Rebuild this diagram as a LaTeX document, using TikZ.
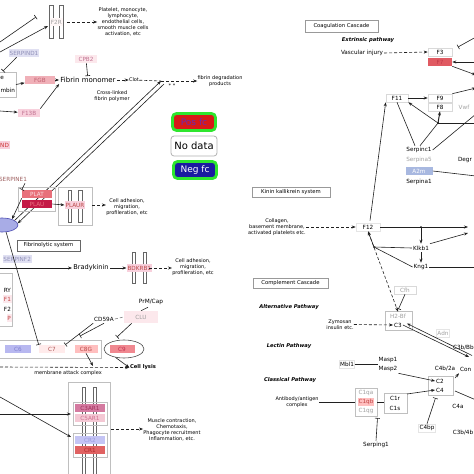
\documentclass[tikz,border=0pt]{standalone}
\usepackage{fontspec}
\setmainfont{DejaVu Sans}
\usetikzlibrary{arrows.meta,shapes.geometric}
\definecolor{pinkA}{HTML}{F8D0DC}
\definecolor{pinkT}{HTML}{C07090}
\definecolor{lpink}{HTML}{FCE8EC}
\definecolor{lav}{HTML}{E0E0F2}
\definecolor{lavT}{HTML}{9090B8}
\definecolor{grayT}{HTML}{A0A0A0}
\definecolor{platbg}{HTML}{E8707A}
\definecolor{plattx}{HTML}{FBDDE0}
\definecolor{plaubg}{HTML}{C41A46}
\definecolor{plautx}{HTML}{E87080}
\definecolor{c3arbg}{HTML}{D47AA0}
\definecolor{c3artx}{HTML}{A0305A}
\definecolor{c5arbg}{HTML}{F4C8D4}
\definecolor{c5artx}{HTML}{D07090}
\definecolor{cr2bg}{HTML}{C4C4F4}
\definecolor{cr2tx}{HTML}{9A9AE0}
\definecolor{cr1bg}{HTML}{E06262}
\definecolor{cr1tx}{HTML}{B02828}
\definecolor{f7bg}{HTML}{E05A62}
\definecolor{f7tx}{HTML}{C03848}
\definecolor{c9bg}{HTML}{F08890}
\definecolor{c9tx}{HTML}{C03050}
\definecolor{c6bg}{HTML}{B8B8F0}
\definecolor{c6tx}{HTML}{8080D0}
\definecolor{fgbbg}{HTML}{F0B0B8}
\definecolor{fgbtx}{HTML}{C06070}
\definecolor{a2mbg}{HTML}{A8B8E0}
\definecolor{posgreen}{HTML}{2EE62E}
\definecolor{posred}{HTML}{D81818}
\definecolor{postx}{HTML}{6A2AB0}
\definecolor{negblue}{HTML}{1A1AA0}
\definecolor{plgbg}{HTML}{A8ACE6}
\definecolor{linec}{HTML}{202020}
\tikzset{
  gene/.style 2 args={font=\fontsize{5.7}{6}\selectfont, inner sep=0.8pt, minimum height=8pt, fill=#1, text=#2},
  plain/.style={font=\fontsize{5.7}{6}\selectfont, inner sep=0.8pt, minimum height=8pt},
  txt/.style={font=\fontsize{5}{5.9}\selectfont, align=center, inner sep=0pt},
  big/.style={font=\fontsize{7}{8}\selectfont, inner sep=1pt},
  bit/.style={font=\fontsize{5.2}{6}\selectfont\bfseries\itshape, inner sep=0pt},
  arr/.style={-{Stealth[length=4pt,width=3pt]}},
  arrb/.style={{Stealth[length=4pt,width=3pt]}-{Stealth[length=4pt,width=3pt]}},
  inh/.style={-{Bar[width=5pt]}},
  dsh/.style={densely dashed},
  rbar/.style={draw=black!60, fill=white, line width=0.5pt},
  lbox/.style={draw=black!25, line width=0.4pt},
  tbox/.style={draw=black!60, line width=0.5pt, font=\fontsize{5.3}{6}\selectfont, inner sep=2pt}
}
\begin{document}
\begin{tikzpicture}[x=1pt,y=-1pt,line width=0.6pt,draw=linec]
\useasboundingbox (0,0) rectangle (474,474);
\clip (0,0) rectangle (474,474);
\fill[white] (0,0) rectangle (474,474);

% ---------------- Left: coagulation outputs
\draw[rbar] (49.5,5) rectangle (53,38);
\draw[rbar] (59.5,5) rectangle (63,38);
\node[gene={red!3}{grayT}] (f2r) at (56.3,22) {F2R};
\node[txt] (plt) at (123,22) {Platelet, monocyte,\\lymphocyte,\\endothelial cells,\\smooth muscle cells\\activation, etc};
\draw[arr,dsh,shorten <=4pt] (f2r.east) -- (plt.west |- f2r.east);
\coordinate (lin1) at (0,42);
\coordinate (lin2) at (0,52);
\coordinate (f2rt) at (36,17);
\coordinate (f2rb) at (48,26);
\draw[inh] (lin1) -- (f2rt);
\draw[arr] (lin2) -- (f2rb);

\node[gene={lav}{lavT}] (serpind1) at (24,53) {SERPIND1};
\node[lbox, minimum width=40pt, minimum height=25pt, anchor=east] (thr) at (16,84.5) {};
\node[plain, anchor=east] (thre) at (5,78) {e};
\node[plain, anchor=east] (thrm) at (16,90) {mbin};
\draw[inh] (serpind1.south west) ++(8,0) coordinate (sd1) -- (3,71);
\node[gene={fgbbg}{fgbtx}, minimum width=30pt] (fgb) at (40,80) {FGB};
\node[big] (fib) at (88,80) {Fibrin monomer};
\node[gene={lpink}{pinkT}, minimum width=22pt] (cpb2) at (86,59) {CPB2};
\draw[inh] (cpb2) -- (fib);
\draw[arr] (thr.east) -- (fgb);
\draw[arr] (fgb) -- (fib);
\node[txt] (clot) at (134,80) {Clot};
\draw[arr,dsh] (fib) -- (clot);
\coordinate (jclot) at (161,81);
\node[txt] (fdp) at (220,81) {fibrin degradation\\products};
\draw[dsh] (clot) -- (jclot);
\draw[arr,dsh] (jclot) -- (fdp.west |- jclot);
\node[txt] (stars) at (172,86) {* *};
\node[txt] (xl) at (112,96) {Cross-linked\\fibrin polymer};
\node[gene={pinkA}{pinkT}, minimum width=22pt] (f13b) at (29,113) {F13B};
\coordinate (lin3) at (0,111);
\draw[arr] (lin3) -- (f13b);
\draw[arr] (f13b.north east) -- (fib.south west);
\node[gene={pinkA}{red!60!gray}, anchor=east] (nd) at (10,145) {ND};

% plasminogen
\node[ellipse, draw=blue!40!gray, fill=plgbg, minimum width=32pt, minimum height=14pt] (plg) at (2,225) {};
\draw[arr] (plg.20) -- (jclot);
\draw[arr] ([shift={(3,3)}]jclot) -- ([shift={(3,3)}]plg.20);

\node[plain, text=red!25!gray, anchor=east] (serpine1) at (28,179) {SERPINE1};
\draw[lbox] (18,187) rectangle (55,211);
\node[gene={platbg}{plattx}, minimum width=30pt] (plat) at (37,194) {PLAT};
\node[gene={plaubg}{plautx}, minimum width=30pt] (plau) at (37,204) {PLAU};
\draw[inh] (serpine1.south east) ++(-3,0) -- (plat.north west);
\draw[arr] (plat.south west) -- (plg.30);
\draw[lbox] (58,187) rectangle (92,225);
\draw[rbar] (68,190) rectangle (71.5,222);
\draw[rbar] (78.5,190) rectangle (82,222);
\node[gene={pinkA}{red!45!gray}] (plaur) at (75,205) {PLAUR};
\draw[arr] (plau.east) -- (plaur.west);
\node[txt] (ca1) at (127,207) {Cell adhesion,\\migration,\\profileration, etc};
\draw[arr,dsh] (92,205) -- (ca1.west |- 92,205);
\node[tbox, minimum width=63pt, minimum height=11pt, draw=black!60] (fibsys) at (48.5,245.5) {Fibrinolytic system};
\node[gene={lav}{lavT}, anchor=east] (serpinf2) at (32,259) {SERPINF2};

\node[big, font=\fontsize{6.6}{7}\selectfont] (brady) at (91,268) {Bradykinin};
\coordinate (lin4) at (0,268);
\draw[arr] (lin4) -- (brady);
\draw[rbar] (132,252) rectangle (135.5,283);
\draw[rbar] (143,252) rectangle (146.5,283);
\node[gene={pinkA}{red!45!gray}] (bdkrb1) at (139.3,268) {BDKRB1};
\draw[arr] (brady) -- (bdkrb1);
\node[txt] (ca2) at (193,267) {Cell adhesion,\\migration,\\profileration, etc};
\draw[arr,dsh] (149,268) -- (ca2.west |- 149,268);

% left list
\draw[lbox] (-5,273) rectangle (12,326);
\node[plain, anchor=east] (l1) at (12,290) {RY};
\node[gene={lpink}{red!50!gray}, anchor=east] (l2) at (12,299) {F1};
\node[plain, anchor=east] (l3) at (12,309) {F2};
\node[gene={lpink}{red!50!gray}, anchor=east] (l4) at (12,318) {P};

% MAC
\draw[lbox] (-5,340) rectangle (101,358);
\node[gene={c6bg}{c6tx}, minimum width=26pt] (c6) at (18,349) {C6};
\node[gene={red!8}{red!35!gray}, minimum width=26pt] (c7) at (52,349) {C7};
\node[gene={red!25}{red!45!gray}, minimum width=23pt] (c8g) at (86,349) {C8G};
\node[gene={c9bg}{c9tx}, minimum width=25pt] (c9) at (122,349) {C9};
\node[ellipse, draw=black!70, minimum width=40pt, minimum height=18pt] (c9e) at (124,349) {};
\draw[inh] (plg.-60) -- (c7.north west);
\node[plain] (cd59a) at (104,319) {CD59A};
\node[gene={lpink}{grayT}, minimum width=34pt, minimum height=12pt] (clu) at (141,317) {CLU};
\node[plain, font=\fontsize{5.8}{6}\selectfont] (prm) at (151,302) {PrM/Cap};
\draw (prm.south) ++(-3,1) -- (clu.north);
\draw[dsh, draw=black!50] (cd59a.east) -- (clu.west);
\draw[inh] (cd59a.south west) -- (c7.north east);
\draw[inh] (cd59a.south) -- (80,336);
\draw[inh] (clu.south west) ++(8,0) -- (117,337);
\coordinate (lys0) at (0,367);
\node[font=\fontsize{5.2}{6}\selectfont\bfseries, inner sep=0.5pt] (lysis) at (143,367.5) {Cell lysis};
\draw[arr,dsh] (lys0) -- (lysis.west);
\draw[arr] (c8g.south) -- (93,366);
\draw[arr] (c9e.-135) -- (lysis.west);
\node[txt] (mac) at (68,373) {membrane attack complex};

% receptors bottom
\draw[lbox] (68,382) rectangle (110,480);
\draw[rbar] (82,387) rectangle (85.5,480);
\draw[rbar] (93,387) rectangle (96.5,480);
\draw[lbox] (73,402) rectangle (107,425);
\draw[lbox] (73,433) rectangle (107,457);
\node[gene={c3arbg}{c3artx}, minimum width=30pt] (c3ar1) at (90,408) {C3AR1};
\node[gene={c5arbg}{c5artx}, minimum width=30pt] (c5ar1) at (90,418) {C5AR1};
\node[gene={cr2bg}{cr2tx}, minimum width=30pt] (cr2) at (90,440) {CR2};
\node[gene={cr1bg}{cr1tx}, minimum width=30pt] (cr1) at (90,450) {CR1};
\coordinate (lin5) at (0,414);
\coordinate (lin6) at (0,397);
\draw[arr] (lin5) -- (71,414);
\draw[arr] (lin6) -- (71,437);
\node[txt] (musc) at (172,430) {Muscle contraction,\\Chemotaxis,\\Phagocyte recruitment\\Inflammation, etc.};
\draw[arr,dsh] (111,429) -- (musc.west |- 111,429);

% legend
\node[draw=posgreen, fill=posred, line width=2.8pt, rounded corners=4pt, minimum width=43pt, minimum height=17pt, text=postx, font=\fontsize{9}{10}\selectfont] (pos) at (194,122) {Pos fc};
\node[draw=black!30, line width=0.8pt, rounded corners=3pt, minimum width=44pt, minimum height=20pt, font=\fontsize{10}{11}\selectfont] (nod) at (194,146) {No data};
\node[draw=posgreen, fill=negblue, line width=2.8pt, rounded corners=4pt, minimum width=43pt, minimum height=17pt, text=white, font=\fontsize{9}{10}\selectfont] (neg) at (195,170) {Neg fc};

% ---------------- Right: coagulation cascade
\node[tbox, draw=black!40, minimum width=73pt, minimum height=12pt] (coag) at (341.5,26) {Coagulation Cascade};
\node[bit] (extr) at (368,40) {Extrinsic pathway};
\node[plain] (vasc) at (362,53) {Vascular injury};
\node[plain, draw=black!15, minimum width=24pt] (f3) at (440,52) {F3};
\node[gene={f7bg}{f7tx}, minimum width=24pt] (f7) at (440,62) {F7};
\draw[arr,dsh] (vasc.east) -- (f3.west);
\coordinate (rin1) at (476,37);
\coordinate (rin2) at (476,62);
\coordinate (rout1) at (476,75);
\draw[inh] (rin1) -- (458,47);
\draw[arr] (rin2) -- (f7.east);
\draw[arr] (f7.south east) -- (rout1);
\node[plain, draw=black!15, minimum width=22pt] (f11) at (397,98) {F11};
\node[plain, draw=black!15, minimum width=24pt] (f9) at (440,98) {F9};
\node[plain, draw=black!15, minimum width=24pt] (f8) at (440,107) {F8};
\node[plain, text=grayT] (vwf) at (464,107) {Vwf};
\draw[arr] (f11) -- (f9);
\coordinate (rout2) at (476,88);
\draw[arr] (f9.north east) -- (rout2);
\coordinate (j1) at (438,123);
\fill (j1) circle (1pt);
\node[plain] (sc1) at (419,150) {Serpinc1};
\node[plain, text=grayT] (sa5) at (419,160) {Serpina5};
\node[gene={a2mbg}{white}, minimum width=27pt] (a2m) at (419,171) {A2m};
\node[plain] (sa1) at (419,182) {Serpina1};
\node[plain, anchor=west] (degr) at (457,160) {Degr};
\draw (sc1.north) ++(-4,0) -- (f11.south);
\draw (sc1.north) ++(1,0) -- (j1);
\draw[arr] (j1) -- (f11.south east);
\draw[arr, line width=1pt] (j1) -- (f8.south);
\coordinate (rout3) at (476,123);
\coordinate (rout4) at (476,114);
\coordinate (rout5) at (476,176);
\draw (j1) -- (rout3);
\draw (sc1.east) -- (rout4);
\draw (a2m.east) -- (rout5);

% kinin kallikrein
\node[tbox, draw=black!40, minimum width=78pt, minimum height=10pt] (kin) at (291,192.5) {Kinin kallikrein system};
\node[txt] (coll) at (277,227) {Collagen,\\basement membrane,\\activated platelets etc.};
\node[plain, draw=black!10, minimum width=24pt] (f12) at (368,227) {F12};
\draw[arr,dsh] (coll.east) -- (f12.west);
\draw[arr] (f12.north) ++(2,-2) -- (f11.south west);
\coordinate (j2) at (421,227);
\coordinate (rout6) at (468,227);
\draw[arr] (f12.east) -- (rout6);
\fill (j2) circle (0.9pt);
\node[plain] (klkb1) at (421,248) {Klkb1};
\node[plain] (kng1) at (421,267) {Kng1};
\draw[arr] (j2) -- (klkb1);
\draw[arr] (klkb1) -- (kng1);
\coordinate (rout7) at (468,233);
\coordinate (rout8) at (476,267);
\draw[arr] (klkb1.north east) -- (rout7);
\draw (kng1.east) -- (rout8);
\coordinate (j3) at (374,247);
\fill (j3) circle (0.9pt);
\draw (klkb1.west) -- (j3);
\draw (kng1.west) -- (j3);
\draw[arr] (j3) -- (f12.south);

% complement
\node[tbox, draw=black!40, minimum width=75pt, minimum height=10pt] (comp) at (290.5,283) {Complement Cascade};
\node[bit] (alt) at (289,307) {Alternative Pathway};
\node[bit] (lec) at (289,346) {Lectin Pathway};
\node[bit] (cla) at (290,380) {Classical Pathway};
\node[plain, text=grayT, draw=black!15, minimum width=22pt] (cfh) at (405,290) {Cfh};
\draw[lbox] (385,311) rectangle (412,330);
\node[plain, text=grayT] (h2bf) at (398,316) {H2-Bf};
\node[plain] (c3) at (398,325) {C3};
\draw[arrb,dsh] (f12.south) -- (h2bf.north);
\draw[inh] (cfh.south) -- (398.5,309);
\node[txt] (zym) at (340,324.5) {Zymosan\\insulin etc.};
\draw[arr,dsh] (zym.east) -- (c3.west);
\node[plain, text=grayT, draw=black!10] (adn) at (443,333) {Adn};
\node[plain, anchor=west] (c3bbb) at (452,348) {C3b/Bb};
\coordinate (c3bbt) at (469,357);
\draw[arr] (c3.east) -- (c3bbt);
\draw[arr] ([shift={(3,-1.5)}]c3bbt) -- ([shift={(4,-1.5)}]c3.east);
\node[plain, draw=black!10] (mbl1) at (347,364) {Mbl1};
\node[plain] (masp1) at (388,360) {Masp1};
\node[plain] (masp2) at (388,369) {Masp2};
\draw (mbl1.east) -- (masp1.west |- mbl1.east);
\node[plain] (c4b2a) at (445,369) {C4b/2a};
\node[plain, anchor=west] (con) at (459,369) {Con};
\draw[lbox] (428,376) rectangle (453,395);
\node[plain] (c2) at (440,381) {C2};
\node[plain] (c4) at (440,390) {C4};
\draw[arr] (masp2.south east) -- (c2.west);
\draw[arr] (455,378) -- (con.south west);
\coordinate (rout9) at (476,400);
\draw (455,391) -- (rout9);
\node[plain] (c4a) at (458,406) {C4a};
\node[plain, draw=black!10] (c4bp) at (427,428) {C4bp};
\draw[inh] (c4bp.north) -- (435.5,398);
\node[plain] (c3b4b) at (463,433) {C3b/4b};
\node[txt] (ab) at (297,402) {Antibody/antigen\\complex};
\draw[lbox] (355,388) rectangle (377,416);
\node[plain, text=grayT] (c1qa) at (366,393) {C1qa};
\node[gene={red!25}{red!50!gray}] (c1qb) at (366,402) {C1qb};
\node[plain, text=grayT] (c1qg) at (366,411) {C1qg};
\draw (ab.east) -- (355,402);
\draw[lbox] (384,393) rectangle (407,413);
\node[plain] (c1r) at (395,398) {C1r};
\node[plain] (c1s) at (395,408) {C1s};
\draw (377,402) -- (384,402);
\draw[arr] (407,394) -- (c4.west);
\node[plain] (serping1) at (376,445) {Serping1};
\draw[inh] (serping1.north) -- (377.5,418);
\end{tikzpicture}
\end{document}
